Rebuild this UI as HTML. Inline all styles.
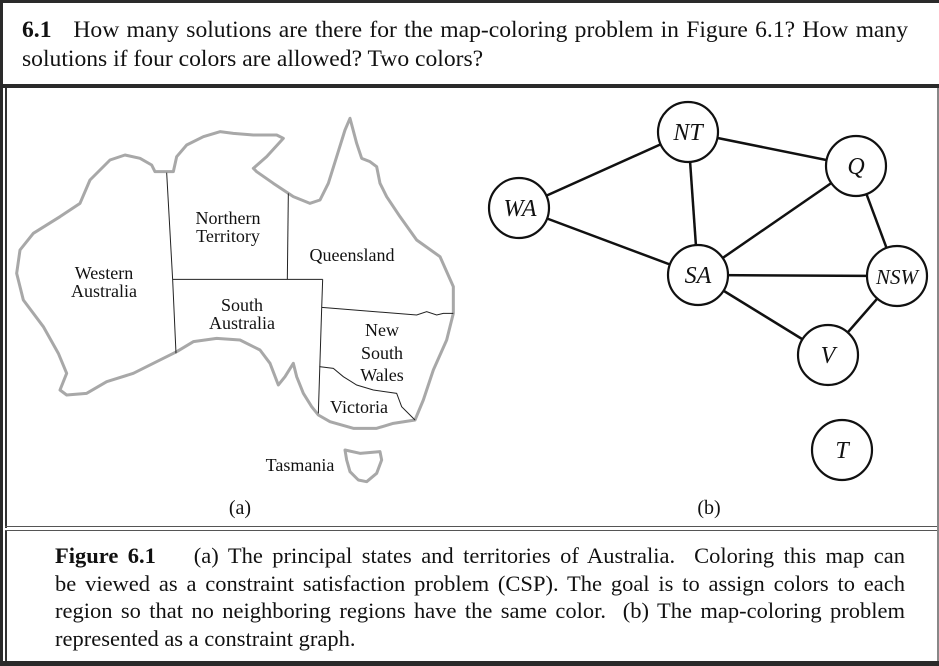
<!DOCTYPE html>
<html><head><meta charset="utf-8"><style>
body{margin:0;width:939px;height:666px;position:relative;background:#fff;overflow:hidden;font-family:"Liberation Serif",serif;color:#111}
.a{position:absolute}
.lbl{position:absolute;font-size:18px;line-height:18px;text-align:center;transform:translateX(-50%);white-space:nowrap}
.j{position:absolute;white-space:nowrap;text-align:justify;text-align-last:justify}
</style></head><body>
<div class="a" style="left:0;top:0;width:939px;height:3px;background:#2a2a2a"></div>
<div class="a" style="left:0;top:0;width:3px;height:666px;background:#2a2a2a"></div>
<div class="a" style="left:0;top:84px;width:939px;height:4px;background:#2a2a2a"></div>
<div class="a" style="left:5px;top:88px;width:2px;height:440px;background:#333"></div>
<div class="a" style="left:5px;top:526px;width:934px;height:1px;background:#555"></div>
<div class="a" style="left:5px;top:530px;width:934px;height:1px;background:#555"></div>
<div class="a" style="left:5px;top:531px;width:2px;height:132px;background:#333"></div>
<div class="a" style="left:937px;top:88px;width:2px;height:575px;background:#888"></div>
<div class="a" style="left:0;top:661px;width:939px;height:5px;background:#2a2a2a"></div>

<div class="j" style="left:22px;top:17px;width:886px;font-size:23.6px;line-height:27px"><b>6.1</b>&nbsp;&nbsp; How many solutions are there for the map-coloring problem in Figure 6.1? How many</div>
<div class="a" style="left:22px;top:46px;font-size:23.6px;line-height:27px;white-space:nowrap">solutions if four colors are allowed? Two colors?</div>

<svg class="a" style="left:0;top:100px" width="470" height="420" viewBox="0 0 1410 1260">
<path d="M465,215 L455,195 L420,175 L375,165 L330,180 L270,240 L240,310 L180,350 L100,400 L60,450 L50,520 L70,600 L130,680 L175,760 L200,820 L180,870 L200,885 L260,880 L320,845 L400,820 L460,790 L530,755 L580,725 L650,715 L720,720 L780,750 L810,790 L835,855 L855,830 L880,790 L890,830 L910,880 L935,920 L955,945 L990,965 L1060,985 L1130,985 L1180,970 L1245,960 L1270,900 L1300,810 L1340,720 L1360,640 L1360,560 L1320,470 L1250,420 L1200,350 L1160,290 L1140,250 L1130,200 L1110,185 L1085,175 L1070,130 L1050,55 L1035,90 L1010,170 L985,250 L960,300 L930,310 L880,290 L820,250 L770,215 L760,205 L800,170 L850,115 L830,105 L760,105 L700,100 L660,95 L610,110 L560,135 L530,170 L520,215 Z" fill="none" stroke="#a8a8a8" stroke-width="9" stroke-linejoin="round"/>
<path d="M1035,1050 L1080,1060 L1140,1055 L1145,1080 L1130,1120 L1100,1145 L1075,1140 L1050,1115 L1040,1080 Z" fill="none" stroke="#a8a8a8" stroke-width="9" stroke-linejoin="round"/>
<g fill="none" stroke="#222" stroke-width="3">
<path d="M500,218 L518,540 L528,760"/>
<path d="M518,538 L968,538"/>
<path d="M865,280 L862,538"/>
<path d="M968,538 L965,625 L955,940"/>
<path d="M965,622 L1250,645 L1280,635 L1310,645 L1330,640 L1360,640"/>
<path d="M958,800 L1000,805 L1030,830 L1070,855 L1120,870 L1190,880 L1205,920 L1245,960"/>
</g>
</svg>
<div class="lbl" style="left:228px;top:209px">Northern<br>Territory</div>
<div class="lbl" style="left:352px;top:246px">Queensland</div>
<div class="lbl" style="left:104px;top:264px">Western<br>Australia</div>
<div class="lbl" style="left:242px;top:296px">South<br>Australia</div>
<div class="lbl" style="left:382px;top:319px;line-height:22.5px">New<br>South<br>Wales</div>
<div class="lbl" style="left:359px;top:398px">Victoria</div>
<div class="lbl" style="left:300px;top:456px">Tasmania</div>
<div class="lbl" style="left:240px;top:498px;font-size:20px;line-height:20px">(a)</div>
<div class="lbl" style="left:709px;top:498px;font-size:20px;line-height:20px">(b)</div>

<svg class="a" style="left:0;top:0" width="939" height="666">
<g stroke="#111" stroke-width="2.5">
<line x1="519" y1="208" x2="688" y2="132"/>
<line x1="519" y1="208" x2="698" y2="275"/>
<line x1="688" y1="132" x2="856" y2="166"/>
<line x1="688" y1="132" x2="698" y2="275"/>
<line x1="856" y1="166" x2="698" y2="275"/>
<line x1="856" y1="166" x2="897" y2="276"/>
<line x1="698" y1="275" x2="897" y2="276"/>
<line x1="698" y1="275" x2="828" y2="355"/>
<line x1="897" y1="276" x2="828" y2="355"/>
</g>
<g fill="#fff" stroke="#111" stroke-width="2.2">
<circle cx="519" cy="208" r="30"/>
<circle cx="688" cy="132" r="30"/>
<circle cx="856" cy="166" r="30"/>
<circle cx="698" cy="275" r="30"/>
<circle cx="897" cy="276" r="30"/>
<circle cx="828" cy="355" r="30"/>
<circle cx="842" cy="450" r="30"/>
</g>
<g font-family="Liberation Serif, serif" font-style="italic" font-size="24" text-anchor="middle" fill="#111">
<text x="520" y="216">WA</text>
<text x="688" y="140">NT</text>
<text x="856" y="174">Q</text>
<text x="698" y="283">SA</text>
<text x="897" y="284" font-size="21">NSW</text>
<text x="828" y="363">V</text>
<text x="842" y="458">T</text>
</g>
</svg>

<div class="j" style="left:55px;top:542px;width:850px;font-size:22.5px;line-height:27.5px"><b>Figure 6.1</b>&nbsp;&nbsp;&nbsp; (a) The principal states and territories of Australia. &nbsp;Coloring this map can</div>
<div class="j" style="left:55px;top:569.5px;width:850px;font-size:22.5px;line-height:27.5px">be viewed as a constraint satisfaction problem (CSP). The goal is to assign colors to each</div>
<div class="j" style="left:55px;top:597px;width:850px;font-size:22.5px;line-height:27.5px">region so that no neighboring regions have the same color. &nbsp;(b) The map-coloring problem</div>
<div class="a" style="left:55px;top:624.5px;font-size:22.5px;line-height:27.5px;white-space:nowrap">represented as a constraint graph.</div>
</body></html>
